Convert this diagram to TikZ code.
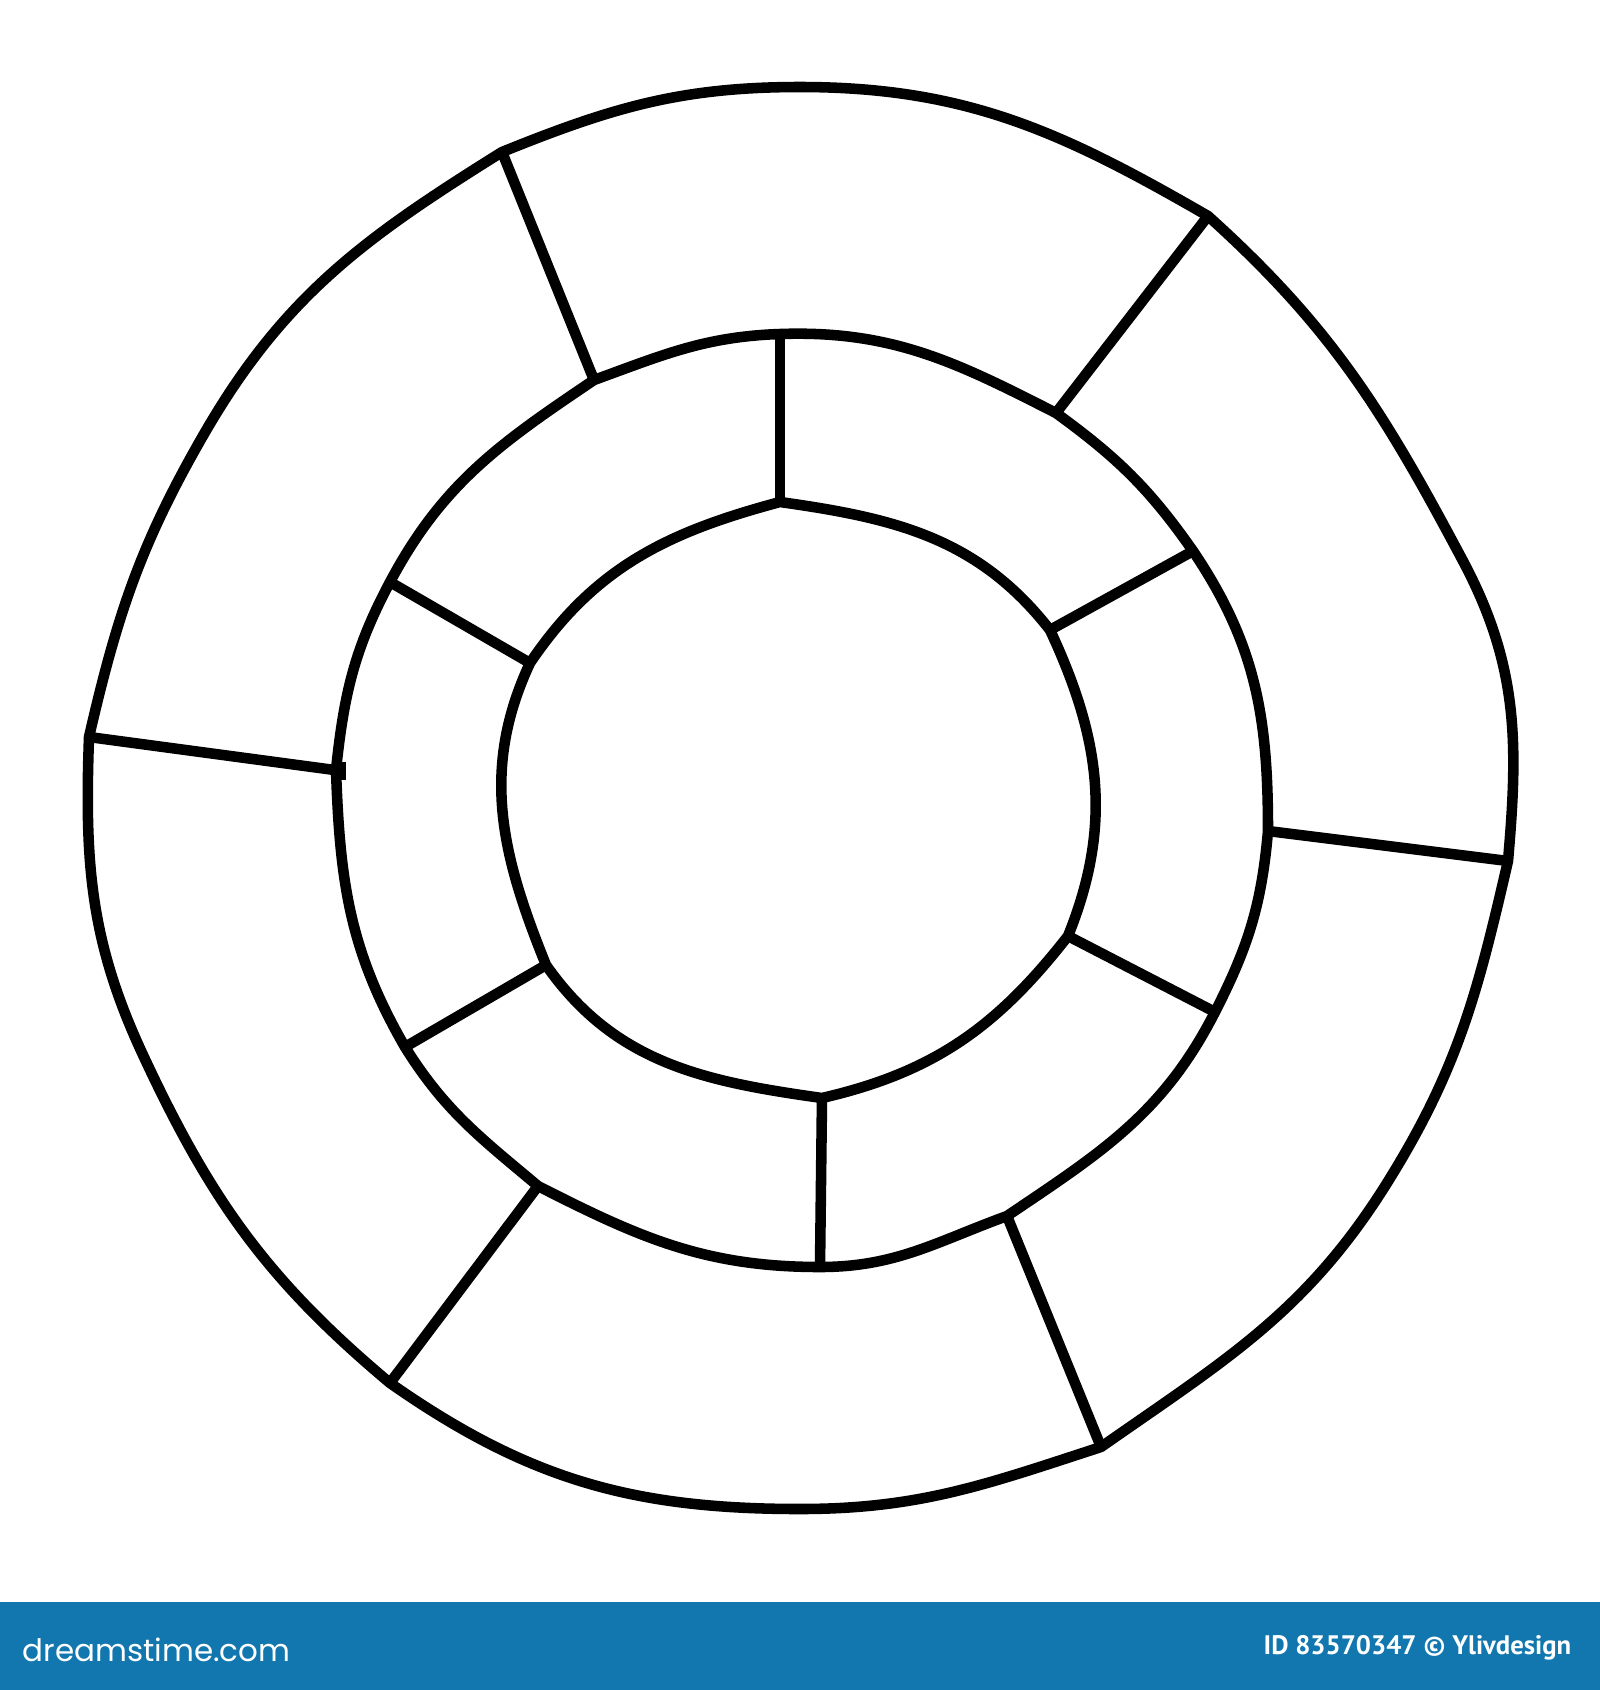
\documentclass[tikz,border=0pt]{standalone}
\usepackage{fontspec}
\newfontfamily\logofont{Poppins}
\newfontfamily\idfont{PT Sans}
\usepackage{xcolor}
\usepackage{tikz}
\usetikzlibrary{positioning}
\definecolor{barblue}{RGB}{17,119,174}
\tikzstyle{ring} = [line width=3pt, line join=round, line cap=round]
\tikzstyle{spoke} = [line width=3pt, line cap=butt]
\tikzstyle{bartext} = [text=white, inner sep=0pt]

\begin{document}
\begin{tikzpicture}[x=0.01cm, y=0.01cm]

  % Frame
  \useasboundingbox (0,0) rectangle (1600,-1690);
  \fill[white] (0,0) rectangle (1600,-1602);
  \fill[barblue] (0,-1602) rectangle (1600,-1690);

  % Corners of the rings
  \coordinate (o1) at (502,-152);
  \coordinate (o2) at (1208,-216);
  \coordinate (o3) at (1508,-861);
  \coordinate (o4) at (1101,-1447);
  \coordinate (o5) at (390,-1383);
  \coordinate (o6) at (89,-737);
  \coordinate (m1) at (594,-380);
  \coordinate (m2) at (1056,-413);
  \coordinate (m3) at (1268,-831);
  \coordinate (m4) at (1007,-1216);
  \coordinate (m5) at (538,-1186);
  \coordinate (m6) at (336,-770);
  \coordinate (m6e) at (342,-771);
  \coordinate (mt) at (780,-334);
  \coordinate (mr) at (1193,-551);
  \coordinate (mrb) at (1215,-1012);
  \coordinate (mb) at (820,-1267);
  \coordinate (mlb) at (405,-1047);
  \coordinate (ml) at (390,-582);
  \coordinate (i1) at (780,-502);
  \coordinate (i2) at (1050,-630);
  \coordinate (i3) at (1068,-936);
  \coordinate (i4) at (822,-1098);
  \coordinate (i5) at (546,-965);
  \coordinate (i6) at (530,-663);

  % Outer ring
  \draw[ring] (o1) to[out=22,in=180] (800,-87) to[out=0,in=150] (o2)
    to[out=-42,in=118] (1463,-561) to[out=-62,in=85] (o3)
    to[out=-103,in=58] (1387,-1183) to[out=-122,in=35] (o4)
    to[out=-162,in=0] (800,-1509) to[out=180,in=-35] (o5)
    to[out=140,in=-65] (143,-1055) to[out=115,in=-92] (o6)
    to[out=77,in=-120] (204,-434) to[out=60,in=212] (o1);

  % Middle ring
  \draw[ring] (m1) to[out=20,in=182] (mt) to[out=2,in=153] (m2)
    to[out=-36,in=125] (mr) to[out=-56,in=90] (m3)
    to[out=-95,in=63] (mrb) to[out=-117,in=34] (m4)
    to[out=-160,in=0] (mb) to[out=180,in=-27] (m5)
    to[out=140,in=-58] (mlb) to[out=120,in=-88] (m6)
    to[out=84,in=-118] (ml) to[out=62,in=214] (m1);

  % Inner ring
  \draw[ring] (i1) to[out=-8,in=128] (i2)
    to[out=-65,in=68] (i3)
    to[out=-128,in=13] (i4)
    to[out=172,in=-55] (i5)
    to[out=112,in=-115] (i6)
    to[out=56,in=195] (i1);

  % Spokes
  \draw[spoke] (o1) -- (m1);
  \draw[spoke] (o2) -- (m2);
  \draw[spoke] (o3) -- (m3);
  \draw[spoke] (o4) -- (m4);
  \draw[spoke] (o5) -- (m5);
  \draw[spoke] (o6) -- (m6e);
  \draw[spoke] ([shift={(-1,9)}]m6e) -- ([shift={(-1,-9)}]m6e);
  \draw[spoke] (mt) -- (i1);
  \draw[spoke] (mr) -- (i2);
  \draw[spoke] (mrb) -- (i3);
  \draw[spoke] (mb) -- (i4);
  \draw[spoke] (mlb) -- (i5);
  \draw[spoke] (ml) -- (i6);

  % Bar texts
  \node (site) [bartext, anchor=west, font=\logofont\fontsize{8.8}{11}\selectfont] at (22,-1650) {dreamstime.com};
  \node (credit) [bartext, anchor=east, font=\idfont\bfseries\fontsize{7.6}{9}\selectfont] at (1572,-1648) {ID 83570347 © Ylivdesign};

\end{tikzpicture}
\end{document}
